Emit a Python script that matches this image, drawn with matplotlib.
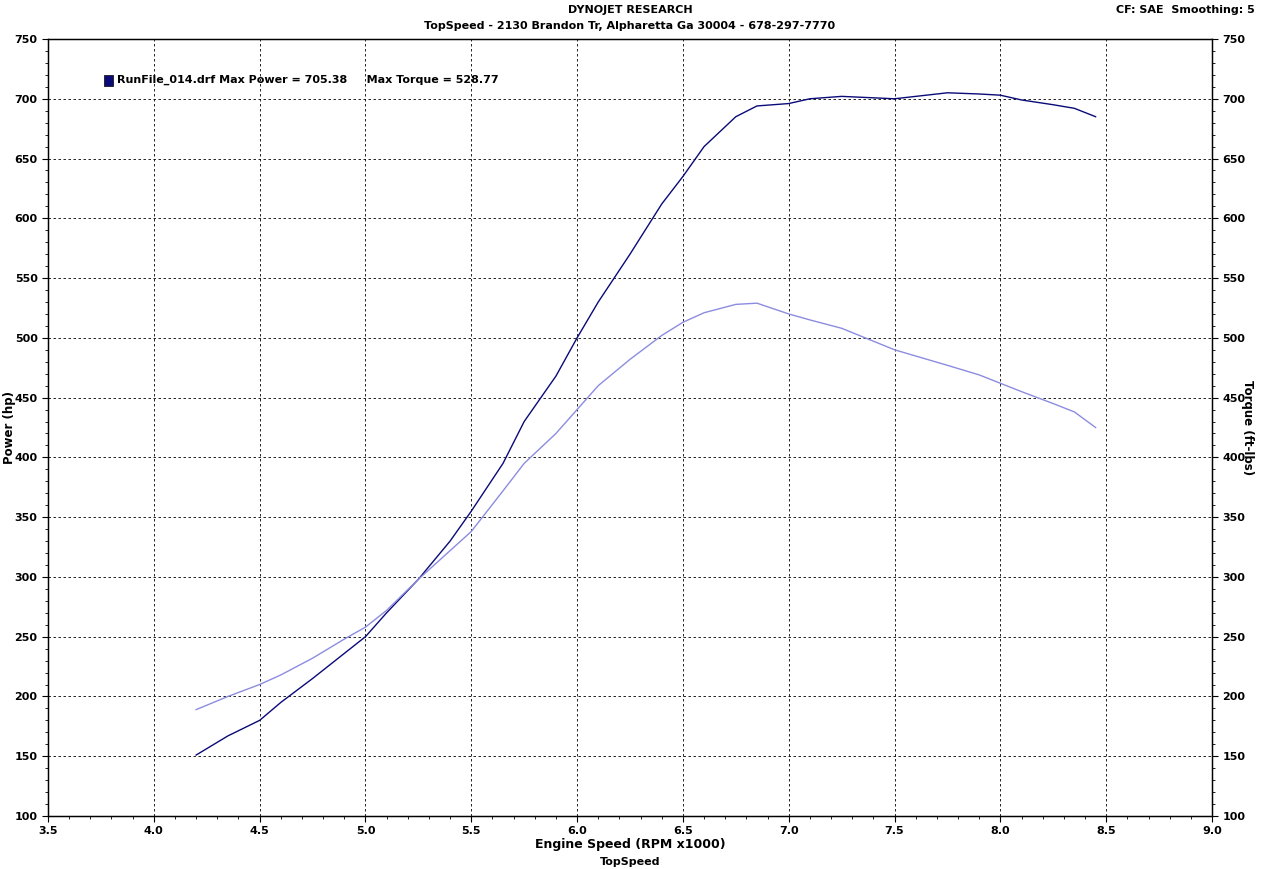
import matplotlib
matplotlib.use("Agg")
import matplotlib.pyplot as plt
import matplotlib.patches as mpatches
from matplotlib.ticker import MultipleLocator

# datos
rpm = [4.2, 4.35, 4.5, 4.6, 4.75, 4.9, 5.0, 5.1, 5.25, 5.4, 5.5, 5.65, 5.75, 5.9, 6.0, 6.1, 6.25, 6.4,
       6.5, 6.6, 6.75, 6.85, 7.0, 7.1, 7.25, 7.5, 7.75, 7.9, 8.0, 8.1, 8.25, 8.35, 8.45]
power = [151, 167, 180, 195, 215, 236, 250, 270, 298, 330, 355, 395, 430, 468, 500, 530, 570, 612,
         635, 660, 685, 694, 696, 700, 702, 700, 705, 704, 703, 699, 695, 692, 685]
torque = [189, 200, 210, 218, 232, 248, 258, 272, 298, 322, 338, 372, 395, 420, 440, 460, 482, 502,
          513, 521, 528, 529, 520, 515, 508, 490, 477, 469, 462, 455, 445, 438, 425]

xticks = [3.5, 4.0, 4.5, 5.0, 5.5, 6.0, 6.5, 7.0, 7.5, 8.0, 8.5, 9.0]

C_POWER = "#0a0a78"
C_TORQUE = "#8c8ce0"
FS = 8

plt.rcParams["font.family"] = "DejaVu Sans"
fig = plt.figure(figsize=(12.61, 8.69), dpi=100)
ax = fig.add_axes([48 / 1261, 1 - 816 / 869, (1212 - 48) / 1261, (816 - 39) / 869])

ax.plot(rpm, power, color=C_POWER, lw=1.0)
ax.plot(rpm, torque, color=C_TORQUE, lw=1.0)

ax.set_xlim(3.5, 9.0)
ax.set_ylim(100, 750)
ax.set_xticks(xticks)
ax.set_xticklabels([f"{t:.1f}" for t in xticks])
ax.xaxis.set_minor_locator(MultipleLocator(0.1))
ax.grid(True, which="major", color="black", linestyle=(0, (3, 3)), linewidth=0.6)

ax2 = ax.twinx()
for a in (ax, ax2):
    a.set_ylim(100, 750)
    a.yaxis.set_major_locator(MultipleLocator(50))
    a.yaxis.set_minor_locator(MultipleLocator(10))
    a.tick_params(labelsize=FS, direction="out", length=4)
    a.tick_params(which="minor", length=2)
    for lbl in a.get_xticklabels() + a.get_yticklabels():
        lbl.set_fontweight("bold")
for s in ax.spines.values():
    s.set_linewidth(1.0)

ax.set_xlabel("Engine Speed (RPM x1000)", fontsize=9, fontweight="bold", labelpad=1)
ax.set_ylabel("Power (hp)", fontsize=8.5, fontweight="bold", va="top")
ax.yaxis.set_label_coords(-0.039, 0.5)
ax2.set_ylabel("Torque (ft-lbs)", fontsize=8.5, fontweight="bold", rotation=270, va="bottom")
ax2.yaxis.set_label_coords(1.025, 0.5)

fig.text(630 / 1261, 1 - 10 / 869, "DYNOJET RESEARCH", ha="center", va="center", fontsize=FS, fontweight="bold")
fig.text(630 / 1261, 1 - 26 / 869, "TopSpeed - 2130 Brandon Tr, Alpharetta Ga 30004 - 678-297-7770",
         ha="center", va="center", fontsize=FS, fontweight="bold")
fig.text(1255 / 1261, 1 - 10 / 869, "CF: SAE  Smoothing: 5", ha="right", va="center", fontsize=FS, fontweight="bold")
fig.text(630 / 1261, 1 - 862 / 869, "TopSpeed", ha="center", va="center", fontsize=FS, fontweight="bold")

ax.add_patch(mpatches.Rectangle((0.048, 0.94), 0.008, 0.014, transform=ax.transAxes,
                                facecolor=C_POWER, edgecolor="black", lw=0.5))
ax.text(0.059, 0.947, "RunFile_014.drf Max Power = 705.38     Max Torque = 528.77",
        transform=ax.transAxes, fontsize=FS, fontweight="bold", va="center")

fig.savefig("out.png", dpi=100)
